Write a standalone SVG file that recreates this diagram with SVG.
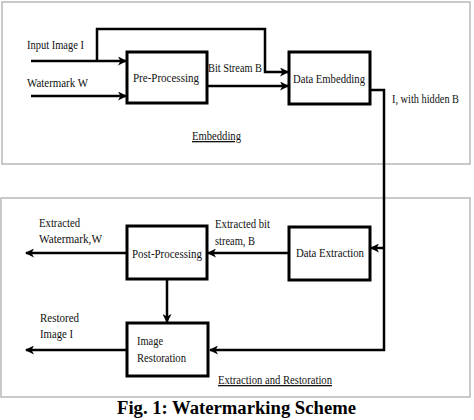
<svg xmlns="http://www.w3.org/2000/svg" width="474" height="420" viewBox="0 0 474 420">
<style>
.frame{fill:none;stroke:#b8b8b8;stroke-width:1.5}
.box{fill:#fff;stroke:#000;stroke-width:3}
.ln{fill:none;stroke:#000;stroke-width:2.5}
text{font-family:"Liberation Serif","Times New Roman",serif;font-size:13px;fill:#111}
.u{text-decoration:underline}
.cap{font-size:18px;font-weight:bold;fill:#000}
</style>
<defs>
<marker id="ah" markerWidth="9" markerHeight="9" refX="8" refY="4.5" orient="auto" markerUnits="userSpaceOnUse">
<path d="M0,0 L9,4.5 L0,9 L2.5,4.5 Z" fill="#000"/>
</marker>
</defs>
<rect width="474" height="420" fill="#fff"/>
<rect class="frame" x="2" y="2" width="468" height="162"/>
<rect class="frame" x="1" y="198" width="469" height="199"/>

<g id="connectors">
<path class="ln" d="M31,61 H126" marker-end="url(#ah)"/>
<path class="ln" d="M97,61 V29 H265 V72 H288" marker-end="url(#ah)"/>
<path class="ln" d="M31,96 H126" marker-end="url(#ah)"/>
<path class="ln" d="M207,86 H288" marker-end="url(#ah)"/>
<path class="ln" d="M370,90 H384 V350 H210" marker-end="url(#ah)"/>
<path class="ln" d="M384,248 H371" marker-end="url(#ah)"/>
<path class="ln" d="M289,253 H208" marker-end="url(#ah)"/>
<path class="ln" d="M127,253 H26" marker-end="url(#ah)"/>
<path class="ln" d="M167,279 V322" marker-end="url(#ah)"/>
<path class="ln" d="M127,350 H26" marker-end="url(#ah)"/>
</g>

<g id="pre-processing">
<rect class="box" x="127" y="52" width="80" height="51"/>
<text x="133" y="82" textLength="66" lengthAdjust="spacingAndGlyphs">Pre-Processing</text>
</g>
<g id="data-embedding">
<rect class="box" x="289" y="52" width="81" height="52"/>
<text x="293" y="83" textLength="72" lengthAdjust="spacingAndGlyphs">Data Embedding</text>
</g>
<g id="data-extraction">
<rect class="box" x="289" y="227" width="81" height="53"/>
<text x="296" y="257" textLength="68" lengthAdjust="spacingAndGlyphs">Data Extraction</text>
</g>
<g id="post-processing">
<rect class="box" x="127" y="226" width="80" height="53"/>
<text x="132" y="258" textLength="70" lengthAdjust="spacingAndGlyphs">Post-Processing</text>
</g>
<g id="image-restoration">
<rect class="box" x="127" y="323" width="81" height="53"/>
<text x="137" y="345" textLength="26" lengthAdjust="spacingAndGlyphs">Image</text>
<text x="137" y="362" textLength="49" lengthAdjust="spacingAndGlyphs">Restoration</text>
</g>

<g id="labels">
<text x="27" y="49" textLength="57" lengthAdjust="spacingAndGlyphs">Input Image I</text>
<text x="27" y="87" textLength="61" lengthAdjust="spacingAndGlyphs">Watermark W</text>
<text x="208" y="72" textLength="54" lengthAdjust="spacingAndGlyphs">Bit Stream B</text>
<text x="392" y="103" style="font-size:11.5px" textLength="67" lengthAdjust="spacingAndGlyphs">I, with hidden B</text>
<text x="192" y="140" class="u" textLength="49" lengthAdjust="spacingAndGlyphs">Embedding</text>
<text x="39" y="227" textLength="41" lengthAdjust="spacingAndGlyphs">Extracted</text>
<text x="39" y="243" textLength="63" lengthAdjust="spacingAndGlyphs">Watermark,W</text>
<text x="215" y="228" textLength="55" lengthAdjust="spacingAndGlyphs">Extracted bit</text>
<text x="215" y="245" textLength="40" lengthAdjust="spacingAndGlyphs">stream, B</text>
<text x="40" y="322" textLength="39" lengthAdjust="spacingAndGlyphs">Restored</text>
<text x="40" y="338" textLength="33" lengthAdjust="spacingAndGlyphs">Image I</text>
<text x="218" y="384" class="u" textLength="114" lengthAdjust="spacingAndGlyphs">Extraction and Restoration</text>
<text class="cap" x="117" y="414" textLength="239" lengthAdjust="spacingAndGlyphs">Fig. 1: Watermarking Scheme</text>
</g>
</svg>
